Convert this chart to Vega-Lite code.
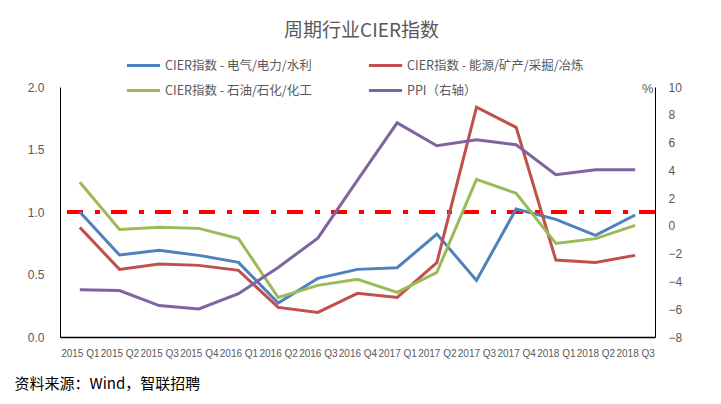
{
  "$schema": "https://vega.github.io/schema/vega-lite/v6.json",
  "autosize": {"type": "none"},
  "width": 595,
  "height": 250,
  "padding": {"left": 60, "top": 87, "right": 66, "bottom": 67},
  "background": "white",
  "title": {
    "text": "周期行业CIER指数",
    "font": "Noto Sans CJK SC",
    "fontSize": 19,
    "fontWeight": "normal",
    "color": "#595959",
    "anchor": "middle",
    "frame": "group",
    "dx": 4,
    "offset": 6
  },
  "data": {
    "values": [
      {"q": "2015 Q1", "s": "CIER指数 - 电气/电力/水利", "v": 1.0},
      {"q": "2015 Q2", "s": "CIER指数 - 电气/电力/水利", "v": 0.656},
      {"q": "2015 Q3", "s": "CIER指数 - 电气/电力/水利", "v": 0.693},
      {"q": "2015 Q4", "s": "CIER指数 - 电气/电力/水利", "v": 0.653},
      {"q": "2016 Q1", "s": "CIER指数 - 电气/电力/水利", "v": 0.597},
      {"q": "2016 Q2", "s": "CIER指数 - 电气/电力/水利", "v": 0.272},
      {"q": "2016 Q3", "s": "CIER指数 - 电气/电力/水利", "v": 0.469},
      {"q": "2016 Q4", "s": "CIER指数 - 电气/电力/水利", "v": 0.541},
      {"q": "2017 Q1", "s": "CIER指数 - 电气/电力/水利", "v": 0.554},
      {"q": "2017 Q2", "s": "CIER指数 - 电气/电力/水利", "v": 0.824},
      {"q": "2017 Q3", "s": "CIER指数 - 电气/电力/水利", "v": 0.453},
      {"q": "2017 Q4", "s": "CIER指数 - 电气/电力/水利", "v": 1.024},
      {"q": "2018 Q1", "s": "CIER指数 - 电气/电力/水利", "v": 0.941},
      {"q": "2018 Q2", "s": "CIER指数 - 电气/电力/水利", "v": 0.813},
      {"q": "2018 Q3", "s": "CIER指数 - 电气/电力/水利", "v": 0.976},
      {"q": "2015 Q1", "s": "CIER指数 - 能源/矿产/采掘/冶炼", "v": 0.877},
      {"q": "2015 Q2", "s": "CIER指数 - 能源/矿产/采掘/冶炼", "v": 0.541},
      {"q": "2015 Q3", "s": "CIER指数 - 能源/矿产/采掘/冶炼", "v": 0.584},
      {"q": "2015 Q4", "s": "CIER指数 - 能源/矿产/采掘/冶炼", "v": 0.573},
      {"q": "2016 Q1", "s": "CIER指数 - 能源/矿产/采掘/冶炼", "v": 0.533},
      {"q": "2016 Q2", "s": "CIER指数 - 能源/矿产/采掘/冶炼", "v": 0.237},
      {"q": "2016 Q3", "s": "CIER指数 - 能源/矿产/采掘/冶炼", "v": 0.197},
      {"q": "2016 Q4", "s": "CIER指数 - 能源/矿产/采掘/冶炼", "v": 0.349},
      {"q": "2017 Q1", "s": "CIER指数 - 能源/矿产/采掘/冶炼", "v": 0.317},
      {"q": "2017 Q2", "s": "CIER指数 - 能源/矿产/采掘/冶炼", "v": 0.594},
      {"q": "2017 Q3", "s": "CIER指数 - 能源/矿产/采掘/冶炼", "v": 1.838},
      {"q": "2017 Q4", "s": "CIER指数 - 能源/矿产/采掘/冶炼", "v": 1.677},
      {"q": "2018 Q1", "s": "CIER指数 - 能源/矿产/采掘/冶炼", "v": 0.616},
      {"q": "2018 Q2", "s": "CIER指数 - 能源/矿产/采掘/冶炼", "v": 0.597},
      {"q": "2018 Q3", "s": "CIER指数 - 能源/矿产/采掘/冶炼", "v": 0.653},
      {"q": "2015 Q1", "s": "CIER指数 - 石油/石化/化工", "v": 1.238},
      {"q": "2015 Q2", "s": "CIER指数 - 石油/石化/化工", "v": 0.861},
      {"q": "2015 Q3", "s": "CIER指数 - 石油/石化/化工", "v": 0.877},
      {"q": "2015 Q4", "s": "CIER指数 - 石油/石化/化工", "v": 0.869},
      {"q": "2016 Q1", "s": "CIER指数 - 石油/石化/化工", "v": 0.787},
      {"q": "2016 Q2", "s": "CIER指数 - 石油/石化/化工", "v": 0.317},
      {"q": "2016 Q3", "s": "CIER指数 - 石油/石化/化工", "v": 0.413},
      {"q": "2016 Q4", "s": "CIER指数 - 石油/石化/化工", "v": 0.461},
      {"q": "2017 Q1", "s": "CIER指数 - 石油/石化/化工", "v": 0.357},
      {"q": "2017 Q2", "s": "CIER指数 - 石油/石化/化工", "v": 0.517},
      {"q": "2017 Q3", "s": "CIER指数 - 石油/石化/化工", "v": 1.261},
      {"q": "2017 Q4", "s": "CIER指数 - 石油/石化/化工", "v": 1.149},
      {"q": "2018 Q1", "s": "CIER指数 - 石油/石化/化工", "v": 0.749},
      {"q": "2018 Q2", "s": "CIER指数 - 石油/石化/化工", "v": 0.787},
      {"q": "2018 Q3", "s": "CIER指数 - 石油/石化/化工", "v": 0.893},
      {"q": "2015 Q1", "s": "PPI（右轴）", "v": -4.59},
      {"q": "2015 Q2", "s": "PPI（右轴）", "v": -4.66},
      {"q": "2015 Q3", "s": "PPI（右轴）", "v": -5.74},
      {"q": "2015 Q4", "s": "PPI（右轴）", "v": -5.98},
      {"q": "2016 Q1", "s": "PPI（右轴）", "v": -4.88},
      {"q": "2016 Q2", "s": "PPI（右轴）", "v": -2.99},
      {"q": "2016 Q3", "s": "PPI（右轴）", "v": -0.88},
      {"q": "2016 Q4", "s": "PPI（右轴）", "v": 3.3},
      {"q": "2017 Q1", "s": "PPI（右轴）", "v": 7.42},
      {"q": "2017 Q2", "s": "PPI（右轴）", "v": 5.77},
      {"q": "2017 Q3", "s": "PPI（右轴）", "v": 6.2},
      {"q": "2017 Q4", "s": "PPI（右轴）", "v": 5.84},
      {"q": "2018 Q1", "s": "PPI（右轴）", "v": 3.68},
      {"q": "2018 Q2", "s": "PPI（右轴）", "v": 4.04},
      {"q": "2018 Q3", "s": "PPI（右轴）", "v": 4.04}
    ]
  },
  "encoding": {
    "x": {
      "field": "q",
      "type": "ordinal",
      "sort": null,
      "scale": {"type": "point", "padding": 0.5},
      "axis": {
        "labelAngle": 0,
        "labelFont": "Liberation Sans",
        "labelFontSize": 10,
        "labelColor": "#595959",
        "labelPadding": 11,
        "labelOverlap": false,
        "labelBound": false,
        "ticks": false,
        "domainColor": "black",
        "domainWidth": 1.5,
        "title": "资料来源：Wind，智联招聘",
        "titleFont": "Noto Sans CJK SC",
        "titleFontSize": 15,
        "titleFontWeight": "normal",
        "titleColor": "black",
        "titleAnchor": "start",
        "titleAlign": "left",
        "titleBaseline": "middle",
        "titleX": -46,
        "titleY": 46
      }
    },
    "color": {
      "field": "s",
      "type": "nominal",
      "scale": {
        "domain": ["CIER指数 - 电气/电力/水利", "CIER指数 - 能源/矿产/采掘/冶炼", "CIER指数 - 石油/石化/化工", "PPI（右轴）"],
        "range": ["#4F81BD", "#C0504D", "#9BBB59", "#8064A2"]
      },
      "legend": {
        "orient": "none",
        "direction": "horizontal",
        "legendX": 65,
        "legendY": -40,
        "columns": 2,
        "columnPadding": 50,
        "rowPadding": -7,
        "symbolType": "stroke",
        "symbolSize": 1100,
        "symbolStrokeWidth": 3,
        "labelFont": "Noto Sans CJK SC",
        "labelFontSize": 12.5,
        "labelColor": "#595959",
        "labelOffset": 3,
        "labelLimit": 400,
        "title": null
      }
    }
  },
  "layer": [
    {
      "layer": [
        {
          "mark": {"type": "rule", "color": "#FF0000", "strokeWidth": 4, "strokeDash": [16, 11, 5, 12], "strokeCap": "butt"},
          "encoding": {"y": {"datum": 1}, "x": null, "color": null}
        },
        {
          "transform": [{"filter": "datum.s !== 'PPI（右轴）'"}],
          "mark": {"type": "line", "strokeWidth": 3},
          "encoding": {
            "y": {
              "field": "v",
              "type": "quantitative",
              "scale": {"domain": [0, 2]},
              "axis": {
                "values": [0, 0.5, 1, 1.5, 2],
                "format": ".1f",
                "labelFont": "Liberation Sans",
                "labelFontSize": 12,
                "labelColor": "#595959",
                "labelPadding": 16,
                "ticks": false,
                "grid": false,
                "domainColor": "black",
                "title": null
              }
            }
          }
        }
      ]
    },
    {
      "transform": [{"filter": "datum.s === 'PPI（右轴）'"}],
      "mark": {"type": "line", "strokeWidth": 3},
      "encoding": {
        "y": {
          "field": "v",
          "type": "quantitative",
          "scale": {"domain": [-8, 10]},
          "axis": {
            "orient": "right",
            "values": [-8, -6, -4, -2, 0, 2, 4, 6, 8, 10],
            "labelFont": "Liberation Sans",
            "labelFontSize": 12,
            "labelColor": "#595959",
            "labelPadding": 13,
            "ticks": false,
            "grid": false,
            "domainColor": "black",
            "title": "%",
            "titleAngle": 0,
            "titleX": -2,
            "titleY": 1,
            "titleAlign": "right",
            "titleBaseline": "middle",
            "titleFont": "Liberation Sans",
            "titleFontSize": 13,
            "titleFontWeight": "normal",
            "titleColor": "#595959"
          }
        }
      }
    }
  ],
  "resolve": {"scale": {"y": "independent"}},
  "config": {
    "view": {"stroke": null}
  }
}
